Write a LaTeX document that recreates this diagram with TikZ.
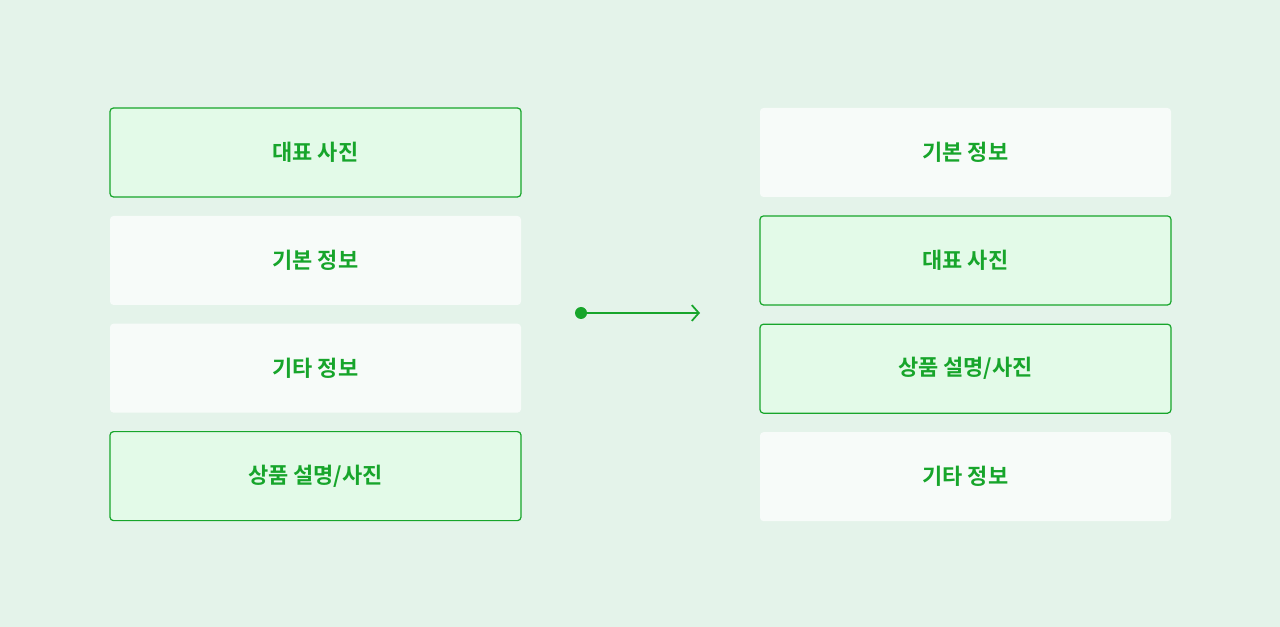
\documentclass[tikz,border=0pt]{standalone}
\usepackage{fontspec}
\newfontfamily\krfont{Noto Sans CJK KR}[BoldFont={* Bold}]
\usetikzlibrary{positioning,arrows.meta}
\definecolor{bgcol}{HTML}{E4F3EA}
\definecolor{hifill}{HTML}{E3FAE8}
\definecolor{plainfill}{HTML}{F7FBF9}
\definecolor{grn}{HTML}{17A52B}

\tikzset{
  card/.style={minimum width=8.22cm, minimum height=1.78cm, rounded corners=2pt,
    font=\krfont\bfseries\fontsize{12.5}{14}\selectfont, text=grn, inner sep=0pt},
  hicard/.style={card, fill=hifill, draw=grn, line width=0.7pt},
  plaincard/.style={card, fill=plainfill},
}

\begin{document}
\begin{tikzpicture}[node distance=0.36cm]
  \fill[bgcol] (0,0) rectangle (25.6,-12.54);
  \useasboundingbox (0,0) rectangle (25.6,-12.54);

  % before
  \node[hicard] (l1) at (6.31,-3.05) {대표 사진};
  \node[plaincard, below=of l1] (l2) {기본 정보};
  \node[plaincard, below=of l2] (l3) {기타 정보};
  \node[hicard, below=of l3] (l4) {상품 설명/사진};

  % after
  \node[plaincard] (r1) at (19.31,-3.05) {기본 정보};
  \node[hicard, below=of r1] (r2) {대표 사진};
  \node[hicard, below=of r2] (r3) {상품 설명/사진};
  \node[plaincard, below=of r3] (r4) {기타 정보};

  \coordinate (start) at (11.62,-6.26);
  \coordinate (end) at (14.0,-6.26);
  \fill[grn] (start) circle (0.12);
  \draw[grn, line width=1pt, -{Straight Barb[length=4pt,width=9pt]}] (start) -- (end);
\end{tikzpicture}
\end{document}
